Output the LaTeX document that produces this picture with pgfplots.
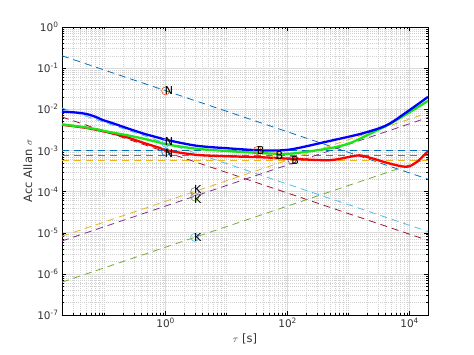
\documentclass[border=0pt]{standalone}
\usepackage{fontspec}
\setmainfont{DejaVu Sans}
\usepackage{pgfplots}
\pgfplotsset{compat=1.18}
\definecolor{mblue}{HTML}{0072BD}
\definecolor{morange}{HTML}{D95319}
\definecolor{myellow}{HTML}{EDB120}
\definecolor{mpurple}{HTML}{7E2F8E}
\definecolor{mgreen}{HTML}{77AC30}
\definecolor{mcyan}{HTML}{4DBEEE}
\definecolor{mred}{HTML}{A2142F}
\definecolor{cgreen}{rgb}{0.1,0.9,0.1}
\begin{document}
\begin{tikzpicture}
\useasboundingbox (-62pt,-40pt) rectangle (412pt,315pt);
\begin{axis}[
  at={(0pt,0pt)}, anchor=south west,
  scale only axis, width=366pt, height=288pt,
  xmode=log, ymode=log,
  xmin=0.02, xmax=20000, ymin=1e-7, ymax=1,
  xtick={1,100,10000},
  xticklabels={10\textsuperscript{0},10\textsuperscript{2},10\textsuperscript{4}},
  minor xtick={0.03,0.04,0.05,0.06,0.07,0.08,0.09,0.1,0.2,0.3,0.4,0.5,0.6,0.7,0.8,0.9,2,3,4,5,6,7,8,9,10,20,30,40,50,60,70,80,90,200,300,400,500,600,700,800,900,1000,2000,3000,4000,5000,6000,7000,8000,9000},
  ytick={1e-7,1e-6,1e-5,1e-4,1e-3,1e-2,1e-1,1},
  yticklabels={10\textsuperscript{-7},10\textsuperscript{-6},10\textsuperscript{-5},10\textsuperscript{-4},10\textsuperscript{-3},10\textsuperscript{-2},10\textsuperscript{-1},10\textsuperscript{0}},
  minor ytick={2e-7,3e-7,4e-7,5e-7,6e-7,7e-7,8e-7,9e-7,2e-6,3e-6,4e-6,5e-6,6e-6,7e-6,8e-6,9e-6,2e-5,3e-5,4e-5,5e-5,6e-5,7e-5,8e-5,9e-5,2e-4,3e-4,4e-4,5e-4,6e-4,7e-4,8e-4,9e-4,2e-3,3e-3,4e-3,5e-3,6e-3,7e-3,8e-3,9e-3,2e-2,3e-2,4e-2,5e-2,6e-2,7e-2,8e-2,9e-2,0.2,0.3,0.4,0.5,0.6,0.7,0.8,0.9},
  grid=both,
  major grid style={solid, black!15, line width=0.5pt},
  minor grid style={dash pattern=on 0.5pt off 1.5pt, black!18, line width=0.4pt},
  tick align=inside,
  major tick length=4pt, minor tick length=2.5pt,
  tick style={black, line width=0.4pt},
  axis line style={black, line width=0.6pt},
  tick label style={font=\fontsize{10.5}{12}\selectfont, text=black!80},
  xlabel={{\normalsize$\tau$} [s]},
  ylabel={Acc Allan {\normalsize$\sigma$}},
  label style={font=\fontsize{11.5}{13}\selectfont, text=black!80},
  xlabel style={yshift=1pt},
  ylabel style={yshift=-2pt},
  clip=true,
]
% dashed reference lines
\pgfplotsset{refl/.style={line width=0.8pt, dash pattern=on 7pt off 5pt}}
\addplot[refl, mblue] coordinates {(0.02,0.2) (20000,2e-4)};
\addplot[refl, mcyan] coordinates {(0.02,0.0107) (20000,1.07e-5)};
\addplot[refl, mred] coordinates {(0.02,6.5e-3) (20000,6.5e-6)};
\addplot[refl, mblue] coordinates {(0.02,1e-3) (20000,1e-3)};
\addplot[refl, morange] coordinates {(0.02,7.7e-4) (20000,7.7e-4)};
\addplot[refl, myellow] coordinates {(0.02,5.8e-4) (20000,5.8e-4)};
\addplot[refl, myellow] coordinates {(0.02,8.2e-6) (20000,8.2e-3)};
\addplot[refl, mpurple] coordinates {(0.02,6.3e-6) (20000,6.3e-3)};
\addplot[refl, mgreen] coordinates {(0.02,6.3e-7) (20000,6.3e-4)};
% solid curves
\addplot[red, line width=2.3pt, smooth] coordinates {
(0.02,4.2e-3) (0.04,3.7e-3) (0.064,3.3e-3) (0.12,2.7e-3) (0.23,2.1e-3) (0.42,1.55e-3) (0.8,1.15e-3) (1.04,1.0e-3) (3.2,7.8e-4) (11,7.2e-4) (39,6.8e-4) (130,6.2e-4) (490,5.8e-4) (1040,7e-4) (1500,7.6e-4) (2450,6.4e-4) (4700,4.8e-4) (8900,4.0e-4) (13000,5.2e-4) (20000,9.5e-4)};
\addplot[cgreen, line width=2.3pt, smooth] coordinates {
(0.02,4.3e-3) (0.039,3.8e-3) (0.064,3.4e-3) (0.12,2.8e-3) (0.23,2.35e-3) (0.42,1.95e-3) (0.8,1.55e-3) (1.04,1.4e-3) (3.2,1.1e-3) (11,9.6e-4) (39,8.6e-4) (108,8.3e-4) (490,1.13e-3) (1040,1.5e-3) (2200,2.5e-3) (4700,4.4e-3) (10000,8.5e-3) (20000,1.6e-2)};
\addplot[blue, line width=2.3pt, smooth] coordinates {
(0.02,8.8e-3) (0.035,8.3e-3) (0.05,7.7e-3) (0.07,6.6e-3) (0.093,5.5e-3) (0.135,4.6e-3) (0.23,3.5e-3) (0.42,2.6e-3) (0.8,2.0e-3) (1.04,1.8e-3) (3.2,1.3e-3) (11,1.12e-3) (39,1.0e-3) (108,1.05e-3) (490,1.7e-3) (1690,2.6e-3) (4200,4.1e-3) (8900,8.5e-3) (20000,2.0e-2)};
% markers with labels
\pgfplotsset{mk/.style={only marks, mark=o, mark size=4pt, mark options={line width=0.6pt},
  nodes near coords={#1}, nodes near coords style={anchor=west, inner sep=0pt, xshift=-1pt, text=black, font=\fontsize{11}{12}\selectfont}}}
\addplot[mk=N, morange] coordinates {(1,0.028)};
\addplot[mk=N, mcyan, nodes near coords style={yshift=1.5pt}] coordinates {(1,1.5e-3)};
\addplot[mk=N, mblue, nodes near coords style={yshift=-1.5pt}] coordinates {(1,9.2e-4)};
\addplot[mk=B, morange] coordinates {(32,1.0e-3)};
\addplot[mk=B, myellow] coordinates {(65,7.5e-4)};
\addplot[mk=B, mpurple] coordinates {(118,5.8e-4)};
\addplot[mk=K, gray, nodes near coords style={yshift=2.5pt}] coordinates {(3,1.0e-4)};
\addplot[mk=K, mgreen, nodes near coords style={yshift=-2.5pt}] coordinates {(3,7.4e-5)};
\addplot[mk=K, mcyan] coordinates {(3,7.7e-6)};
\end{axis}
\end{tikzpicture}
\end{document}
